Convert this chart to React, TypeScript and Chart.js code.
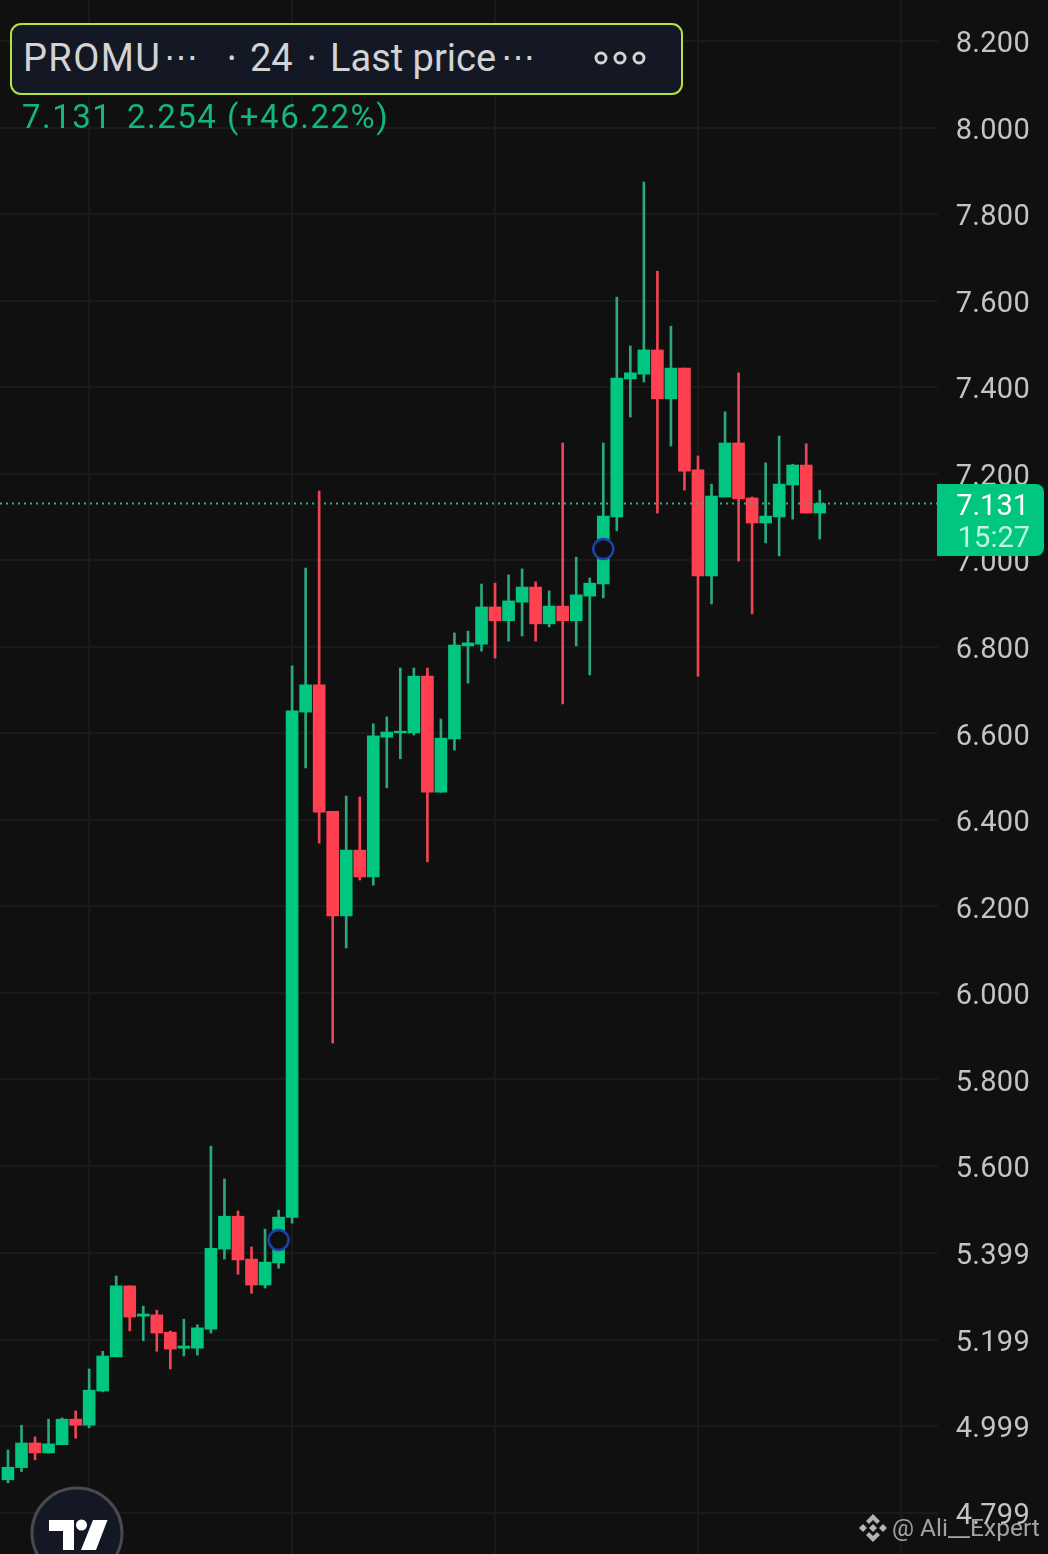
import React, { useEffect, useRef } from "react";
import { Chart, registerables } from "chart.js";

Chart.register(...registerables);

const candleIndex = Array.from({ length: 61 }, (_, i) => i);
const opens = [4.875,4.903,4.960,4.937,4.956,5.015,5.001,5.080,5.159,5.323,5.253,5.256,5.216,5.179,5.179,5.223,5.408,5.484,5.385,5.325,5.376,5.481,6.649,6.712,6.420,6.178,6.330,6.268,6.591,6.601,6.601,6.732,6.464,6.587,6.802,6.806,6.892,6.860,6.903,6.938,6.853,6.894,6.860,6.917,6.945,7.100,7.419,7.430,7.486,7.373,7.444,7.209,6.964,7.146,7.271,7.144,7.086,7.100,7.174,7.220,7.109];
const highs = [4.944,5.001,4.974,5.015,5.018,5.034,5.131,5.172,5.346,5.323,5.276,5.267,5.219,5.246,5.233,5.646,5.570,5.496,5.413,5.454,5.498,6.756,6.982,7.160,6.420,6.455,6.453,6.622,6.638,6.751,6.751,6.751,6.633,6.832,6.836,6.945,6.947,6.966,6.980,6.950,6.929,7.271,7.007,6.959,7.271,7.608,7.495,7.874,7.668,7.541,7.444,7.241,7.176,7.343,7.433,7.146,7.225,7.287,7.222,7.269,7.162];
const lows = [4.868,4.894,4.921,4.937,4.956,4.971,4.995,5.078,5.159,5.219,5.196,5.172,5.131,5.161,5.163,5.214,5.385,5.350,5.306,5.318,5.364,5.468,6.520,6.346,5.884,6.104,6.261,6.249,6.474,6.541,6.596,6.303,6.464,6.561,6.716,6.790,6.774,6.813,6.825,6.813,6.846,6.668,6.802,6.735,6.913,7.068,7.331,7.412,7.109,7.264,7.162,6.732,6.899,7.146,6.998,6.876,7.040,7.010,7.095,7.109,7.049];
const closes = [4.904,4.960,4.937,4.958,5.015,5.001,5.082,5.161,5.323,5.251,5.258,5.214,5.177,5.184,5.226,5.410,5.484,5.383,5.325,5.378,5.482,6.652,6.712,6.418,6.178,6.330,6.268,6.594,6.603,6.605,6.732,6.464,6.589,6.804,6.809,6.892,6.860,6.906,6.938,6.853,6.894,6.860,6.920,6.947,7.102,7.421,7.433,7.486,7.373,7.444,7.206,6.964,7.148,7.271,7.142,7.086,7.102,7.176,7.220,7.109,7.131];

const yTicks = [8.2, 8.0, 7.8, 7.6, 7.4, 7.2, 7.0, 6.8, 6.6, 6.4, 6.2, 6.0, 5.8, 5.6, 5.399, 5.199, 4.999, 4.799];
const xGridIndices = [6, 21, 36, 51, 66];
const markerIndices = [20, 44];
const markerPrices = [5.429, 7.026];
const lastPrice = 7.131;
const symbolLabel = "PROMU";
const ellipsis = "⋯";
const intervalLabel = "24";
const sourceLabel = "Last price";
const priceLabel = "7.131";
const changeLabel = "2.254 (+46.22%)";
const countdownLabel = "15:27";
const watermark = "@ Ali__Expert";

const UP = "#00C67F";
const DOWN = "#FF4050";
const UP_WICK = "#2BA87C";
const DOWN_WICK = "#F04552";
const BG = "#101011";
const FONT = "Roboto, sans-serif";

const X_MIN = -0.59;
const X_MAX = 68.74;
const Y_MIN = 4.7034;
const Y_MAX = 8.2947;

function Label(props: { x: number; cy: number; size: number; color: string; text: string; right?: number; opacity?: number; spacing?: number }) {
  const { x, cy, size, color, text, right, opacity, spacing } = props;
  const style: React.CSSProperties = {
    position: "absolute",
    top: cy - 30,
    height: 60,
    lineHeight: "60px",
    fontFamily: FONT,
    fontSize: size,
    color,
    whiteSpace: "pre",
    opacity: opacity ?? 1,
    letterSpacing: spacing ?? 0,
  };
  if (right !== undefined) style.right = 1048 - right;
  else style.left = x;
  return <div style={style}>{text}</div>;
}

export default function App() {
  const ref = useRef<HTMLCanvasElement | null>(null);

  useEffect(() => {
    document.body.style.margin = "0";
    document.body.style.background = BG;
    const canvas = ref.current!;
    const wick = candleIndex.map((i) => ({ x: i, y: [lows[i], highs[i]] }));
    const body = candleIndex.map((i) => ({ x: i, y: [opens[i], closes[i]] }));
    const isUp = candleIndex.map((i) => closes[i] >= opens[i]);
    const noPadding = (axis: any) => {
      axis.paddingTop = 0;
      axis.paddingBottom = 0;
      axis.paddingLeft = 0;
      axis.paddingRight = 0;
    };
    const chart = new Chart(canvas, {
      type: "bar",
      data: {
        datasets: [
          {
            label: "Wick",
            data: wick as any,
            backgroundColor: isUp.map((u) => (u ? UP_WICK : DOWN_WICK)),
            barThickness: 2,
            grouped: false,
            borderWidth: 0,
            order: 4,
          },
          {
            label: "Body",
            data: body as any,
            backgroundColor: isUp.map((u) => (u ? UP : DOWN)),
            barThickness: 12,
            grouped: false,
            borderWidth: 0,
            order: 3,
          },
          {
            type: "line",
            label: "Last price",
            data: [
              { x: X_MIN, y: lastPrice },
              { x: X_MAX, y: lastPrice },
            ],
            borderColor: "#3FA883",
            borderWidth: 2,
            borderDash: [2, 4],
            pointRadius: 0,
            order: 2,
          },
          {
            type: "line",
            label: "Markers",
            data: markerIndices.map((x, i) => ({ x, y: markerPrices[i] })),
            showLine: false,
            pointStyle: "circle",
            pointRadius: 10,
            pointBorderWidth: 2.5,
            pointBorderColor: "#1A44A8",
            pointBackgroundColor: BG,
            order: 1,
          },
        ] as any,
      },
      plugins: [
        {
          id: "tickSpacing",
          beforeDraw: (c: any) => {
            c.ctx.letterSpacing = "0.3px";
          },
        },
      ],
      options: {
        responsive: false,
        devicePixelRatio: 1,
        animation: false,
        layout: { autoPadding: false, padding: { left: 0, top: 0, bottom: 0, right: 18 } },
        plugins: { legend: { display: false }, tooltip: { enabled: false } },
        events: [],
        scales: {
          x: {
            type: "linear",
            min: X_MIN,
            max: X_MAX,
            offset: false,
            border: { display: false },
            grid: { color: "#1A1A1B", lineWidth: 2, drawTicks: false, offset: false },
            ticks: { display: false },
            afterBuildTicks: (axis: any) => {
              axis.ticks = xGridIndices.map((value) => ({ value }));
            },
            afterFit: (axis: any) => {
              axis.height = 0;
              noPadding(axis);
            },
          },
          y: {
            type: "linear",
            position: "right",
            min: Y_MIN,
            max: Y_MAX,
            border: { display: false },
            grid: { color: "#1A1A1B", lineWidth: 2, drawTicks: false },
            ticks: {
              color: "#C4C4C4",
              font: { family: "Roboto", size: 29 },
              padding: 0,
              labelOffset: 4,
              crossAlign: "far",
              autoSkip: false,
              callback: (v: any) => Number(v).toFixed(3),
            },
            afterBuildTicks: (axis: any) => {
              axis.ticks = yTicks.map((value) => ({ value }));
            },
            afterFit: (axis: any) => {
              axis.width = 92;
              noPadding(axis);
            },
          },
        },
      } as any,
    });
    return () => chart.destroy();
  }, []);

  return (
    <div style={{ position: "fixed", left: 0, top: 0, width: 1048, height: 1554, overflow: "hidden", background: BG }}>
      <canvas ref={ref} width={1048} height={1554} style={{ position: "absolute", left: 0, top: 0, display: "block" }} />

      {/* Header pill */}
      <div
        style={{
          position: "absolute",
          left: 10,
          top: 23,
          width: 673,
          height: 72,
          boxSizing: "border-box",
          border: "2px solid #B4E33C",
          borderRadius: 11,
          background: "#141824",
        }}
      />
      <Label x={23} cy={58} size={38} color="#D3D3D3" text={symbolLabel} spacing={1.4} />
      <Label x={164} cy={56.5} size={34} color="#D3D3D3" text={ellipsis} />
      <Label x={228} cy={59} size={22} color="#D3D3D3" text={"•"} />
      <Label x={250} cy={58} size={38} color="#D3D3D3" text={intervalLabel} />
      <Label x={308} cy={59} size={22} color="#D3D3D3" text={"•"} />
      <Label x={330} cy={58} size={38} color="#D3D3D3" text={sourceLabel} />
      <Label x={501} cy={56.5} size={34} color="#D3D3D3" text={ellipsis} />
      <svg style={{ position: "absolute", left: 590, top: 46 }} width={62} height={24}>
        {[11, 30, 49].map((cx) => (
          <circle key={cx} cx={cx} cy={12} r={5} fill="none" stroke="#D3D3D3" strokeWidth={3} />
        ))}
      </svg>

      <Label x={22} cy={116.5} size={33} color="#14B67F" text={priceLabel} spacing={1.5} />
      <Label x={127} cy={116.5} size={33} color="#14B67F" text={changeLabel} spacing={1.5} />

      {/* Last price badge */}
      <div
        style={{
          position: "absolute",
          left: 937,
          top: 484,
          width: 107,
          height: 72,
          background: UP,
          borderRadius: "0 8px 8px 0",
        }}
      />
      <Label x={0} right={1029} cy={505} size={29} color="#FFFFFF" text={priceLabel} />
      <Label x={0} right={1030} cy={537} size={29} color="#BDF5DF" text={countdownLabel} />

      {/* TradingView logo */}
      <svg style={{ position: "absolute", left: 0, top: 1470 }} width={160} height={84}>
        <circle cx={77} cy={63} r={45} fill="#141824" stroke="#4A4A4C" strokeWidth={3} />
        <path d="M49 50 H74 V80 H63 V61 H49 Z" fill="#FFFFFF" />
        <circle cx={81.5} cy={55} r={5.5} fill="#FFFFFF" />
        <path d="M93 50 H107.5 L96 80 H81 Z" fill="#FFFFFF" />
      </svg>

      {/* Watermark */}
      <svg style={{ position: "absolute", left: 859, top: 1514 }} width={28} height={28} viewBox="0 0 28 28">
        <path
          d="M14 0 L21 7 L18 10 L14 6 L10 10 L7 7 Z M14 28 L7 21 L10 18 L14 22 L18 18 L21 21 Z M0 14 L4 10 L8 14 L4 18 Z M20 14 L24 10 L28 14 L24 18 Z M14 10 L18 14 L14 18 L10 14 Z"
          fill="#B4B4B4"
        />
      </svg>
      <Label x={892} cy={1528} size={24.5} color="#B4B4B4" text={watermark} opacity={0.9} />
    </div>
  );
}
